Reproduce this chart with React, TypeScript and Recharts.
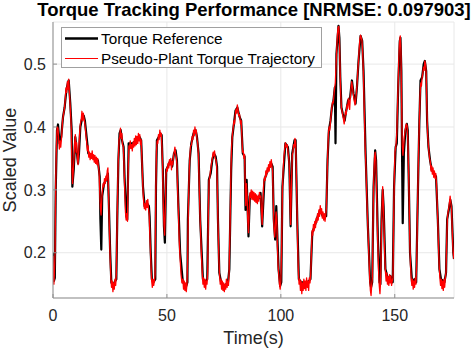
import { LineChart, Line, XAxis, YAxis, CartesianGrid } from "recharts";

// time (s) and scaled torque of the reference signal
const refTime = [
  0, 0.4, 0.8, 1.2, 1.75, 2.2, 2.9, 3.6, 4.4, 5.1,
  5.85, 6.6, 6.9, 7.6, 8.2, 8.5, 9.1, 9.8, 10.2, 11.0,
  11.4, 12.0, 12.9, 13.5, 14.0, 14.9, 15.5, 17.5, 19.7, 20.5,
  20.8, 21.2, 21.6, 22.4, 23.4, 24.1, 24.5, 25.1, 25.6, 26.3,
  27.0, 27.8, 28.2, 28.7, 29.2, 29.7, 30.3, 31.0, 31.4, 32.2,
  32.6, 33.2, 35.0, 36.5, 38.0, 38.7, 39.5, 40.2, 41.2, 42.1,
  42.4, 42.9, 43.4, 44.1, 44.9, 45.2, 45.6, 46.4, 47.1, 47.7,
  48.2, 48.7, 49.1, 49.7, 50.4, 51.5, 52.3, 53.1, 53.8, 54.4,
  55.0, 55.8, 57.0, 58.5, 59.0, 59.2, 60.0, 60.7, 61.7, 62.6,
  63.2, 63.9, 64.6, 65.8, 66.8, 67.7, 68.4, 69.2, 69.9, 70.6,
  71.4, 72.0, 72.4, 73.0, 73.8, 75.3, 76.8, 77.4, 78.2, 78.7,
  79.4, 80.1, 80.9, 81.9, 82.6, 83.3, 84.1, 84.5, 85.0, 85.3,
  85.8, 86.4, 87.0, 88.5, 89.9, 91.1, 91.8, 92.8, 94.3, 95.8,
  96.4, 96.9, 97.5, 98.0, 99.0, 99.7, 100.2, 100.7, 102.0, 103.1,
  103.7, 104.3, 105.0, 106.0, 106.5, 107.2, 107.9, 108.9, 111.9, 113.0,
  113.8, 114.8, 116.2, 117.3, 118.4, 119.9, 120.5, 121.1, 121.8, 122.4,
  123.1, 123.7, 124.0, 124.4, 125.3, 125.7, 126.1, 126.6, 127.2, 128.0,
  128.7, 129.5, 130.4, 131.2, 131.9, 132.8, 133.4, 134.1, 135.0, 135.7,
  136.3, 137.2, 138.2, 139.2, 139.6, 140.1, 140.7, 141.4, 141.8, 142.6,
  143.3, 143.7, 144.2, 144.7, 145.1, 145.9, 147.0, 148.0, 149.1, 149.7,
  150.4, 150.9, 151.5, 152.2, 152.5, 152.9, 153.2, 153.5, 154.0, 154.7,
  155.3, 155.7, 156.2, 156.7, 157.6, 158.6, 159.4, 160.2, 160.8, 161.3,
  162.0, 162.7, 163.2, 163.8, 164.2, 164.8, 165.5, 166.2, 167.3, 168.1,
  168.9, 169.6, 170.3, 171.8, 172.5, 173.0, 173.7, 174.4, 174.9, 175.7,
  176.0,
];

const refTorque = [
  0.200, 0.155, 0.160, 0.300, 0.395, 0.404, 0.374, 0.384, 0.416, 0.431,
  0.458, 0.471, 0.474, 0.437, 0.395, 0.305, 0.332, 0.384, 0.368, 0.342,
  0.358, 0.400, 0.416, 0.418, 0.410, 0.379, 0.358, 0.353, 0.347, 0.321,
  0.253, 0.205, 0.290, 0.310, 0.316, 0.326, 0.279, 0.200, 0.153, 0.147,
  0.153, 0.158, 0.253, 0.347, 0.390, 0.395, 0.379, 0.368, 0.321, 0.258,
  0.253, 0.374, 0.374, 0.379, 0.384, 0.379, 0.305, 0.274, 0.279, 0.274,
  0.258, 0.200, 0.158, 0.153, 0.158, 0.305, 0.379, 0.384, 0.390, 0.387,
  0.332, 0.242, 0.216, 0.332, 0.337, 0.347, 0.337, 0.358, 0.363, 0.347,
  0.279, 0.200, 0.153, 0.147, 0.153, 0.253, 0.347, 0.374, 0.390, 0.395,
  0.384, 0.358, 0.253, 0.158, 0.153, 0.158, 0.316, 0.326, 0.347, 0.358,
  0.353, 0.337, 0.253, 0.168, 0.153, 0.147, 0.153, 0.174, 0.332, 0.384,
  0.405, 0.426, 0.431, 0.416, 0.410, 0.358, 0.353, 0.268, 0.316, 0.284,
  0.226, 0.290, 0.295, 0.289, 0.284, 0.295, 0.242, 0.316, 0.332, 0.342,
  0.337, 0.253, 0.221, 0.274, 0.174, 0.147, 0.153, 0.305, 0.374, 0.368,
  0.342, 0.242, 0.358, 0.379, 0.379, 0.253, 0.158, 0.153, 0.153, 0.158,
  0.232, 0.242, 0.258, 0.268, 0.258, 0.258, 0.347, 0.395, 0.410, 0.431,
  0.442, 0.463, 0.374, 0.516, 0.561, 0.542, 0.479, 0.431, 0.421, 0.410,
  0.426, 0.442, 0.447, 0.474, 0.453, 0.437, 0.463, 0.505, 0.545, 0.537,
  0.489, 0.358, 0.242, 0.153, 0.145, 0.153, 0.305, 0.363, 0.347, 0.221,
  0.153, 0.150, 0.253, 0.300, 0.274, 0.174, 0.158, 0.163, 0.153, 0.305,
  0.368, 0.374, 0.463, 0.537, 0.542, 0.489, 0.358, 0.247, 0.358, 0.395,
  0.405, 0.395, 0.305, 0.200, 0.153, 0.158, 0.153, 0.305, 0.410, 0.474,
  0.479, 0.500, 0.505, 0.489, 0.410, 0.368, 0.347, 0.332, 0.326, 0.321,
  0.253, 0.174, 0.158, 0.153, 0.168, 0.253, 0.268, 0.284, 0.274, 0.200,
  0.190,
];

// time (s) and scaled torque of the pseudo-plant trajectory
const trajTime = [
  0.0, 0.2, 0.4, 0.6, 0.9, 1.2, 1.5, 1.8, 2.2, 2.5,
  2.8, 3.1, 3.4, 3.8, 4.2, 4.6, 5.0, 5.4, 5.7, 6.0,
  6.3, 6.6, 6.9, 7.2, 7.6, 8.0, 8.3, 8.6, 8.9, 9.2,
  9.5, 9.8, 10.1, 10.4, 10.7, 11.0, 11.3, 11.7, 12.0, 12.4,
  12.7, 13.0, 13.3, 13.6, 14.0, 14.4, 14.8, 15.1, 15.4, 15.7,
  16.0, 16.3, 16.6, 16.9, 17.2, 17.5, 17.8, 18.1, 18.4, 18.7,
  19.0, 19.3, 19.6, 19.9, 20.2, 20.5, 20.8, 21.1, 21.4, 21.7,
  22.0, 22.3, 22.6, 22.9, 23.2, 23.5, 23.8, 24.1, 24.4, 24.8,
  25.1, 25.4, 25.7, 26.0, 26.3, 26.6, 26.9, 27.2, 27.5, 27.8,
  28.2, 28.6, 29.0, 29.3, 29.6, 29.9, 30.2, 30.5, 30.8, 31.1,
  31.4, 31.8, 32.1, 32.4, 32.7, 33.0, 33.3, 33.6, 33.9, 34.2,
  34.5, 34.8, 35.1, 35.4, 35.7, 36.0, 36.3, 36.6, 36.9, 37.2,
  37.5, 37.8, 38.1, 38.4, 38.7, 39.1, 39.5, 39.8, 40.1, 40.4,
  40.7, 41.0, 41.3, 41.6, 41.9, 42.2, 42.6, 43.0, 43.3, 43.6,
  43.9, 44.2, 44.5, 44.8, 45.1, 45.4, 45.7, 46.0, 46.3, 46.6,
  46.9, 47.2, 47.5, 47.8, 48.1, 48.4, 48.7, 49.0, 49.3, 49.6,
  49.9, 50.2, 50.5, 50.8, 51.1, 51.4, 51.7, 52.0, 52.3, 52.6,
  52.9, 53.2, 53.5, 53.8, 54.1, 54.4, 54.7, 55.0, 55.4, 55.8,
  56.2, 56.6, 57.0, 57.3, 57.6, 57.9, 58.2, 58.5, 58.8, 59.1,
  59.4, 59.8, 60.1, 60.4, 60.8, 61.1, 61.4, 61.7, 62.0, 62.3,
  62.6, 62.9, 63.2, 63.5, 63.9, 64.3, 64.7, 65.1, 65.5, 65.8,
  66.1, 66.4, 66.7, 67.0, 67.3, 67.6, 67.9, 68.2, 68.5, 68.8,
  69.1, 69.4, 69.7, 70.0, 70.3, 70.6, 70.9, 71.2, 71.5, 71.8,
  72.1, 72.4, 72.8, 73.1, 73.4, 73.7, 74.0, 74.3, 74.6, 74.9,
  75.2, 75.5, 75.8, 76.1, 76.4, 76.7, 77.0, 77.3, 77.7, 78.1,
  78.4, 78.8, 79.1, 79.4, 79.7, 80.0, 80.3, 80.6, 80.9, 81.2,
  81.5, 81.9, 82.3, 82.6, 82.9, 83.2, 83.5, 83.8, 84.1, 84.4,
  84.6, 84.9, 85.2, 85.5, 85.8, 86.1, 86.4, 86.7, 87.0, 87.3,
  87.6, 87.9, 88.2, 88.5, 88.8, 89.1, 89.4, 89.7, 90.0, 90.3,
  90.6, 90.9, 91.2, 91.5, 91.8, 92.1, 92.4, 92.8, 93.1, 93.4,
  93.7, 94.0, 94.3, 94.6, 94.9, 95.2, 95.5, 95.8, 96.1, 96.4,
  96.7, 97.0, 97.3, 97.6, 97.9, 98.2, 98.5, 98.8, 99.1, 99.4,
  99.7, 100.0, 100.3, 100.7, 101.0, 101.3, 101.7, 102.0, 102.4, 102.8,
  103.1, 103.5, 103.8, 104.1, 104.3, 104.6, 105.0, 105.3, 105.6, 105.9,
  106.2, 106.5, 106.8, 107.1, 107.4, 107.7, 108.0, 108.3, 108.6, 108.9,
  109.2, 109.5, 109.8, 110.1, 110.4, 110.7, 111.0, 111.3, 111.6, 111.9,
  112.2, 112.5, 112.8, 113.1, 113.4, 113.7, 114.0, 114.3, 114.6, 114.9,
  115.2, 115.5, 115.8, 116.1, 116.4, 116.7, 117.0, 117.3, 117.6, 117.9,
  118.2, 118.5, 118.8, 119.1, 119.4, 119.7, 120.0, 120.3, 120.6, 120.9,
  121.2, 121.5, 121.8, 122.1, 122.4, 122.7, 123.0, 123.3, 123.6, 123.9,
  124.2, 124.5, 124.8, 125.1, 125.4, 125.7, 126.0, 126.3, 126.6, 126.9,
  127.2, 127.5, 127.8, 128.1, 128.4, 128.7, 129.0, 129.3, 129.6, 129.9,
  130.2, 130.5, 130.8, 131.1, 131.4, 131.7, 132.0, 132.3, 132.6, 132.9,
  133.2, 133.5, 133.8, 134.1, 134.4, 134.7, 135.0, 135.3, 135.6, 135.9,
  136.2, 136.6, 137.0, 137.4, 137.8, 138.2, 138.6, 139.0, 139.3, 139.6,
  139.9, 140.2, 140.5, 140.8, 141.1, 141.4, 141.7, 142.0, 142.3, 142.6,
  142.9, 143.2, 143.5, 143.8, 144.1, 144.4, 144.7, 145.0, 145.3, 145.6,
  145.9, 146.2, 146.5, 146.8, 147.1, 147.4, 147.7, 148.0, 148.3, 148.6,
  148.9, 149.2, 149.5, 149.8, 150.1, 150.5, 150.9, 151.2, 151.5, 151.8,
  152.1, 152.4, 152.7, 153.0, 153.3, 153.6, 153.9, 154.2, 154.5, 154.8,
  155.1, 155.4, 155.7, 156.0, 156.3, 156.6, 156.9, 157.2, 157.5, 157.8,
  158.1, 158.4, 158.7, 159.0, 159.3, 159.6, 159.9, 160.2, 160.5, 160.8,
  161.1, 161.4, 161.7, 162.0, 162.3, 162.6, 162.9, 163.2, 163.5, 163.8,
  164.1, 164.4, 164.7, 165.0, 165.3, 165.6, 165.9, 166.2, 166.5, 166.8,
  167.1, 167.4, 167.7, 168.0, 168.3, 168.6, 168.9, 169.2, 169.5, 169.8,
  170.1, 170.4, 170.7, 171.0, 171.3, 171.6, 171.9, 172.2, 172.5, 172.8,
  173.1, 173.4, 173.7, 174.0, 174.3, 174.6, 174.9, 175.2, 175.5, 175.8,
  176.0,
];

const trajTorque = [
  0.195, 0.170, 0.150, 0.165, 0.200, 0.310, 0.370, 0.400, 0.398, 0.380,
  0.365, 0.378, 0.368, 0.385, 0.410, 0.420, 0.428, 0.445, 0.462, 0.455,
  0.472, 0.460, 0.476, 0.455, 0.430, 0.400, 0.340, 0.310, 0.330, 0.350,
  0.375, 0.388, 0.360, 0.375, 0.350, 0.340, 0.360, 0.390, 0.405, 0.412,
  0.425, 0.410, 0.422, 0.414, 0.405, 0.390, 0.375, 0.362, 0.370, 0.352,
  0.360, 0.348, 0.358, 0.350, 0.362, 0.348, 0.356, 0.344, 0.355, 0.342,
  0.352, 0.340, 0.350, 0.338, 0.330, 0.300, 0.270, 0.260, 0.285, 0.300,
  0.310, 0.305, 0.318, 0.310, 0.322, 0.315, 0.330, 0.335, 0.290, 0.230,
  0.190, 0.160, 0.145, 0.155, 0.138, 0.152, 0.142, 0.158, 0.148, 0.165,
  0.260, 0.340, 0.380, 0.385, 0.398, 0.382, 0.390, 0.372, 0.370, 0.350,
  0.310, 0.265, 0.252, 0.262, 0.250, 0.330, 0.370, 0.365, 0.378, 0.366,
  0.372, 0.362, 0.376, 0.368, 0.382, 0.370, 0.386, 0.372, 0.385, 0.374,
  0.390, 0.378, 0.388, 0.372, 0.380, 0.340, 0.300, 0.280, 0.270, 0.278,
  0.268, 0.283, 0.272, 0.285, 0.270, 0.262, 0.220, 0.180, 0.155, 0.145,
  0.158, 0.148, 0.155, 0.165, 0.290, 0.360, 0.378, 0.374, 0.388, 0.380,
  0.395, 0.385, 0.390, 0.370, 0.340, 0.280, 0.245, 0.228, 0.270, 0.325,
  0.335, 0.330, 0.342, 0.335, 0.348, 0.340, 0.350, 0.332, 0.345, 0.340,
  0.355, 0.360, 0.368, 0.358, 0.352, 0.340, 0.300, 0.270, 0.220, 0.190,
  0.165, 0.152, 0.158, 0.142, 0.155, 0.140, 0.152, 0.138, 0.150, 0.190,
  0.270, 0.330, 0.355, 0.370, 0.372, 0.385, 0.380, 0.395, 0.386, 0.400,
  0.390, 0.395, 0.380, 0.375, 0.350, 0.290, 0.240, 0.200, 0.168, 0.150,
  0.160, 0.145, 0.158, 0.142, 0.155, 0.150, 0.170, 0.270, 0.315, 0.320,
  0.330, 0.338, 0.345, 0.352, 0.360, 0.354, 0.362, 0.350, 0.348, 0.340,
  0.310, 0.250, 0.190, 0.165, 0.150, 0.158, 0.142, 0.155, 0.140, 0.152,
  0.138, 0.150, 0.142, 0.158, 0.145, 0.155, 0.148, 0.170, 0.240, 0.330,
  0.370, 0.390, 0.398, 0.410, 0.405, 0.420, 0.428, 0.422, 0.435, 0.428,
  0.418, 0.420, 0.405, 0.410, 0.385, 0.360, 0.362, 0.350, 0.356, 0.300,
  0.275, 0.310, 0.290, 0.250, 0.232, 0.265, 0.295, 0.288, 0.300, 0.285,
  0.298, 0.284, 0.296, 0.282, 0.294, 0.280, 0.292, 0.278, 0.290, 0.282,
  0.296, 0.288, 0.290, 0.265, 0.245, 0.275, 0.305, 0.320, 0.315, 0.330,
  0.322, 0.335, 0.328, 0.340, 0.330, 0.345, 0.336, 0.348, 0.338, 0.330,
  0.280, 0.240, 0.225, 0.240, 0.265, 0.255, 0.210, 0.180, 0.165, 0.150,
  0.142, 0.155, 0.200, 0.300, 0.330, 0.350, 0.365, 0.375, 0.368, 0.372,
  0.362, 0.350, 0.330, 0.270, 0.245, 0.300, 0.355, 0.360, 0.372, 0.368,
  0.382, 0.375, 0.330, 0.270, 0.210, 0.170, 0.150, 0.158, 0.140, 0.155,
  0.135, 0.152, 0.140, 0.158, 0.143, 0.155, 0.140, 0.160, 0.145, 0.155,
  0.140, 0.160, 0.152, 0.165, 0.200, 0.235, 0.228, 0.245, 0.235, 0.250,
  0.240, 0.255, 0.248, 0.262, 0.252, 0.268, 0.258, 0.275, 0.262, 0.270,
  0.255, 0.265, 0.252, 0.262, 0.250, 0.260, 0.270, 0.320, 0.360, 0.390,
  0.400, 0.395, 0.410, 0.420, 0.432, 0.440, 0.438, 0.450, 0.462, 0.470,
  0.495, 0.520, 0.545, 0.558, 0.560, 0.540, 0.490, 0.450, 0.430, 0.425,
  0.418, 0.412, 0.405, 0.415, 0.425, 0.420, 0.435, 0.430, 0.445, 0.440,
  0.428, 0.448, 0.460, 0.472, 0.465, 0.455, 0.448, 0.440, 0.435, 0.445,
  0.455, 0.470, 0.490, 0.505, 0.525, 0.540, 0.546, 0.542, 0.538, 0.520,
  0.490, 0.430, 0.370, 0.330, 0.280, 0.240, 0.200, 0.160, 0.140, 0.132,
  0.150, 0.160, 0.260, 0.320, 0.350, 0.360, 0.345, 0.300, 0.250, 0.210,
  0.170, 0.148, 0.135, 0.155, 0.220, 0.270, 0.305, 0.280, 0.240, 0.195,
  0.170, 0.155, 0.168, 0.150, 0.162, 0.148, 0.165, 0.152, 0.163, 0.148,
  0.155, 0.160, 0.250, 0.320, 0.360, 0.370, 0.390, 0.430, 0.470, 0.510,
  0.535, 0.545, 0.520, 0.440, 0.370, 0.355, 0.370, 0.385, 0.392, 0.400,
  0.405, 0.402, 0.385, 0.340, 0.290, 0.220, 0.180, 0.160, 0.148, 0.158,
  0.142, 0.155, 0.145, 0.160, 0.150, 0.180, 0.250, 0.310, 0.370, 0.410,
  0.450, 0.470, 0.465, 0.478, 0.485, 0.495, 0.490, 0.505, 0.500, 0.485,
  0.430, 0.390, 0.375, 0.360, 0.350, 0.345, 0.330, 0.338, 0.325, 0.335,
  0.320, 0.330, 0.318, 0.326, 0.310, 0.280, 0.250, 0.210, 0.180, 0.160,
  0.148, 0.158, 0.143, 0.155, 0.140, 0.158, 0.145, 0.160, 0.170, 0.220,
  0.255, 0.265, 0.270, 0.280, 0.290, 0.280, 0.270, 0.240, 0.210, 0.195,
  0.190,
];

const timeTicks = [0, 50, 100, 150];
const valueTicks = [0.2, 0.3, 0.4, 0.5];
const seriesNames = ["Torque Reference", "Pseudo-Plant Torque Trajectory"];
const chartTitle = "Torque Tracking Performance [NRMSE: 0.097903]";

const refData = refTime.map((t, i) => ({ t, v: refTorque[i] }));
const trajData = trajTime.map((t, i) => ({ t, v: trajTorque[i] }));

const FONT = '"Liberation Sans", Arial, Helvetica, sans-serif';
const TEXT = "#262626";
const AXIS = "#8f8f8f";

export default function App() {
  return (
    <div style={{ position: "absolute", left: 0, top: 0, width: 474, height: 352, background: "#fff", fontFamily: FONT }}>
      <LineChart width={474} height={352} margin={{ top: 22, right: 20, bottom: 0, left: 0 }}>
        <CartesianGrid stroke="#e8e8e8" />
        <XAxis
          type="number"
          dataKey="t"
          domain={[0, 176]}
          ticks={timeTicks}
          allowDataOverflow
          height={54}
          tickSize={-4}
          tickMargin={16}
          stroke={AXIS}
          tick={{ fill: TEXT, fontSize: 16, fontFamily: FONT }}
          label={(props: any) => {
            const vb = props.viewBox;
            return (
              <text x={vb.x + vb.width / 2} y={344} textAnchor="middle" fill={TEXT} fontSize={18} fontFamily={FONT}>
                Time(s)
              </text>
            );
          }}
        />
        <YAxis
          type="number"
          dataKey="v"
          domain={[0.128, 0.567]}
          ticks={valueTicks}
          allowDataOverflow
          width={53}
          tickSize={-4}
          tickMargin={11}
          stroke={AXIS}
          tickFormatter={(v: number) => v.toFixed(1)}
          tick={{ fill: TEXT, fontSize: 16, fontFamily: FONT }}
          label={(props: any) => {
            const vb = props.viewBox;
            const cy = vb.y + vb.height / 2;
            return (
              <text x={16} y={cy} transform={`rotate(-90 16 ${cy})`} textAnchor="middle" fill={TEXT} fontSize={18} fontFamily={FONT}>
                Scaled Value
              </text>
            );
          }}
        />
        <Line
          data={refData}
          dataKey="v"
          name={seriesNames[0]}
          type="linear"
          stroke="#000000"
          strokeWidth={2.2}
          strokeLinejoin="round"
          dot={false}
          activeDot={false}
          isAnimationActive={false}
        />
        <Line
          data={trajData}
          dataKey="v"
          name={seriesNames[1]}
          type="linear"
          stroke="#ff0000"
          strokeWidth={1.3}
          strokeLinejoin="round"
          dot={false}
          activeDot={false}
          isAnimationActive={false}
        />
      </LineChart>

      {/* title */}
      <div
        style={{
          position: "absolute",
          left: 0,
          top: 1,
          width: 508,
          textAlign: "center",
          fontSize: 18.5,
          lineHeight: "18.5px",
          fontWeight: "bold",
          whiteSpace: "nowrap",
          color: "#000",
        }}
      >
        {chartTitle}
      </div>

      {/* legend box, matlab style */}
      <svg style={{ position: "absolute", left: 61, top: 27 }} width={262} height={42}>
        <rect x={0.5} y={0.5} width={260} height={40} fill="#fff" stroke="#a0a0a0" />
        <line x1={4} x2={37} y1={11.5} y2={11.5} stroke="#000" strokeWidth={2.5} />
        <text x={40} y={11.5} dominantBaseline="central" fontSize={15.3} fontFamily={FONT} fill="#000">
          {seriesNames[0]}
        </text>
        <line x1={4} x2={37} y1={31.5} y2={31.5} stroke="#ff0000" strokeWidth={1} />
        <text x={40} y={31.5} dominantBaseline="central" fontSize={15.3} fontFamily={FONT} fill="#000">
          {seriesNames[1]}
        </text>
      </svg>
    </div>
  );
}
